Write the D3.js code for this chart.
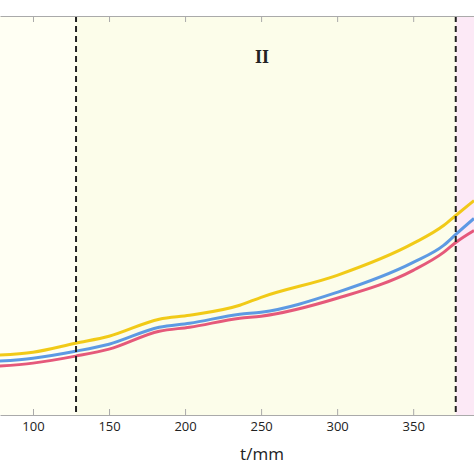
<!DOCTYPE html><html><head><script src="https://cdn.jsdelivr.net/npm/d3@7"></script>
<style>body{margin:0;background:#fff}</style></head><body><svg id="c" width="474" height="474"></svg>
<script>
const tVals=[78,100,128,150,183,203,236,250,300,350,370,378,390];
const yellow=[15,15.75,18,19.75,24,25,27.5,29.5,35,43,47.5,50,53.75];
const blue=[13.5,14.25,16,17.75,22,23,25.25,25.75,30.75,38.25,42.5,45.25,49.25];
const red=[12.25,13,14.75,16.5,21,22,24.25,24.75,29.25,36.25,40.75,43.25,46.25];
const ticks=[100,150,200,250,300,350];
const bounds=[128.3,378];
const svg=d3.select("#c");
const x=d3.scaleLinear().domain([78.3,390]).range([0,474]);
const y=d3.scaleLinear().domain([0,100]).range([415,16]);
const [x0,x1]=x.domain();
svg.append("rect").attr("x",x(x0)).attr("y",16).attr("width",x(bounds[0])-x(x0)).attr("height",399).attr("fill","#fffff3");
svg.append("rect").attr("x",x(bounds[0])).attr("y",16).attr("width",x(bounds[1])-x(bounds[0])).attr("height",399).attr("fill","#fcfdea");
svg.append("rect").attr("x",x(bounds[1])).attr("y",16).attr("width",x(x1)-x(bounds[1])).attr("height",399).attr("fill","#fce9f6");
const line=d3.line().x((d,i)=>x(tVals[i])).y(d=>y(d)).curve(d3.curveMonotoneX);
[[yellow,"#f0c400"],[blue,"#4b8fe2"],[red,"#e2476e"]].forEach(([s,c])=>svg.append("path").attr("d",line(s)).attr("fill","none").attr("stroke",c).attr("stroke-width",3).attr("opacity",0.9));
bounds.forEach(b=>svg.append("line").attr("x1",x(b)).attr("x2",x(b)).attr("y1",16).attr("y2",415).attr("stroke","#222").attr("stroke-width",2).attr("stroke-dasharray","6,4"));
const ax=svg.append("g").attr("transform","translate(0,415)").call(d3.axisBottom(x).tickValues(ticks).tickSizeInner(-6).tickSizeOuter(0).tickPadding(7));
ax.select(".domain").attr("stroke","#aaa");
ax.selectAll(".tick line").attr("stroke","#aaa");
ax.selectAll("text").attr("font-family","Open Sans, sans-serif").attr("font-size",13).attr("fill","#222");
const at=svg.append("g").attr("transform","translate(0,16)").call(d3.axisTop(x).tickValues(ticks).tickSizeInner(-6).tickSizeOuter(0).tickFormat(""));
at.select(".domain").attr("stroke","#aaa");at.selectAll(".tick line").attr("stroke","#aaa");
svg.append("text").attr("x",262).attr("y",460).attr("text-anchor","middle").attr("font-family","Open Sans, sans-serif").attr("font-size",17).attr("fill","#222").text("t/mm");
svg.append("text").attr("x",262).attr("y",63).attr("text-anchor","middle").attr("font-family","Liberation Serif, serif").attr("font-weight","bold").attr("font-size",18).attr("fill","#222").text("II");
</script></body></html>
